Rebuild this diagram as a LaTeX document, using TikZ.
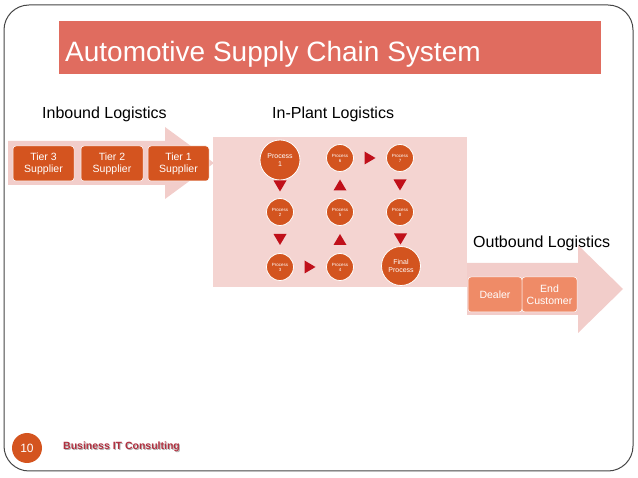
\documentclass[tikz,border=0pt]{standalone}
\usepackage{fontspec}
\setmainfont{Liberation Sans}
\usetikzlibrary{calc}
\definecolor{titlered}{HTML}{E06C5F}
\definecolor{boxred}{HTML}{D4541F}
\definecolor{procred}{HTML}{D3541F}
\definecolor{pinkbg}{HTML}{F4D4D1}
\definecolor{arrowpink}{HTML}{F2CDCA}
\definecolor{trired}{HTML}{C0101A}
\definecolor{dealer}{HTML}{EF8B67}
\definecolor{footred}{HTML}{B0303F}
\definecolor{framegray}{HTML}{454545}
\begin{document}
\begin{tikzpicture}[x=1pt,y=-1pt,
  supbox/.style={fill=boxred, rounded corners=3pt, text=white, font=\fontsize{10.5}{12}\selectfont, align=center, inner sep=0pt, minimum height=35, draw=white, line width=0.5pt},
  outbox/.style={supbox, fill=dealer},
  proc/.style={circle, fill=procred, draw=white, line width=0.8pt, text=white, align=center, inner sep=0pt},
  smallproc/.style={proc, minimum size=27, font=\fontsize{4.5}{5}\selectfont},
  bigproc/.style={proc, minimum size=40, font=\fontsize{7}{8.5}\selectfont},
  lbl/.style={anchor=base west, inner sep=0pt, font=\fontsize{16}{18}\selectfont},
  flowtri/.pic={\fill[trired] (-5.5,-6.5) -- (5.5,0) -- (-5.5,6.5) -- cycle;}
]
\useasboundingbox (0,0) rectangle (638,478);
\draw[framegray, line width=1pt, rounded corners=25pt] (4,5) rectangle (633,471);

% title
\node[fill=titlered, minimum width=542, minimum height=53, inner sep=0pt, anchor=north west] (titlebar) at (59,21) {};
\node[anchor=base west, inner sep=0pt, text=white, font=\fontsize{28}{30}\selectfont] (title) at (65,62) {Automotive Supply Chain System};

% section labels
\node[lbl] (inlbl) at (42,119) {Inbound Logistics};
\node[lbl] (plantlbl) at (272,119) {In-Plant Logistics};
\node[lbl] (outlbl) at (473,248) {Outbound Logistics};

% inbound arrow
\fill[arrowpink] (8,141) -- (165,141) -- (165,127) -- (214,163) -- (165,199) -- (165,185) -- (8,185) -- cycle;
\node[supbox, minimum width=61] (t3) at (43.5,163.5) {Tier 3\\Supplier};
\node[supbox, minimum width=62] (t2) at (112,163.5) {Tier 2\\Supplier};
\node[supbox, minimum width=61] (t1) at (178.5,163.5) {Tier 1\\Supplier};

% outbound arrow
\fill[arrowpink] (467,263) -- (578,263) -- (578,245) -- (623,289) -- (578,333) -- (578,315) -- (467,315) -- cycle;

% in-plant area
\fill[pinkbg] (213,137) rectangle (467,287);

\node[outbox, minimum width=54] (dealer) at (495,294.5) {Dealer};
\node[outbox, minimum width=55] (endc) at (549.5,294.5) {End\\Customer};

% processes
\node[bigproc] (p1) at (280,160) {Process\\1};
\node[smallproc] (p6) at (340,158) {Process\\6};
\node[smallproc] (p7) at (400,158) {Process\\7};
\node[smallproc] (p2) at (280,212) {Process\\2};
\node[smallproc] (p5) at (340,212) {Process\\5};
\node[smallproc] (p8) at (400,212) {Process\\8};
\node[smallproc] (p3) at (280,267) {Process\\3};
\node[smallproc] (p4) at (340,267) {Process\\4};
\node[bigproc, minimum size=39] (pf) at (401,266) {Final\\Process};

% flow triangles
\pic[rotate=-90] at ($(p1)!0.5!(p2)$) {flowtri};
\pic[rotate=-90] at ($(p2)!0.5!(p3)$) {flowtri};
\pic at ($(p3)!0.5!(p4)$) {flowtri};
\pic[rotate=90] at ($(p4)!0.5!(p5)$) {flowtri};
\pic[rotate=90] at ($(p5)!0.5!(p6)$) {flowtri};
\pic at ($(p6)!0.5!(p7)$) {flowtri};
\pic[rotate=-90] at ($(p7)!0.5!(p8)$) {flowtri};
\pic[rotate=-90] at ($(p8)!0.5!(pf)$) {flowtri};

% footer
\node[circle, fill=boxred, minimum size=30, inner sep=0pt, text=white, font=\fontsize{12}{14}\selectfont] (pg) at (27,448) {10};
\node[anchor=west, inner sep=0pt, text=gray!60, font=\bfseries\fontsize{10.5}{12}\selectfont] (footshadow) at (64,448) {Business IT Consulting};
\node[anchor=west, inner sep=0pt, text=footred, font=\bfseries\fontsize{10.5}{12}\selectfont] (foot) at (63,447) {Business IT Consulting};
\end{tikzpicture}
\end{document}
